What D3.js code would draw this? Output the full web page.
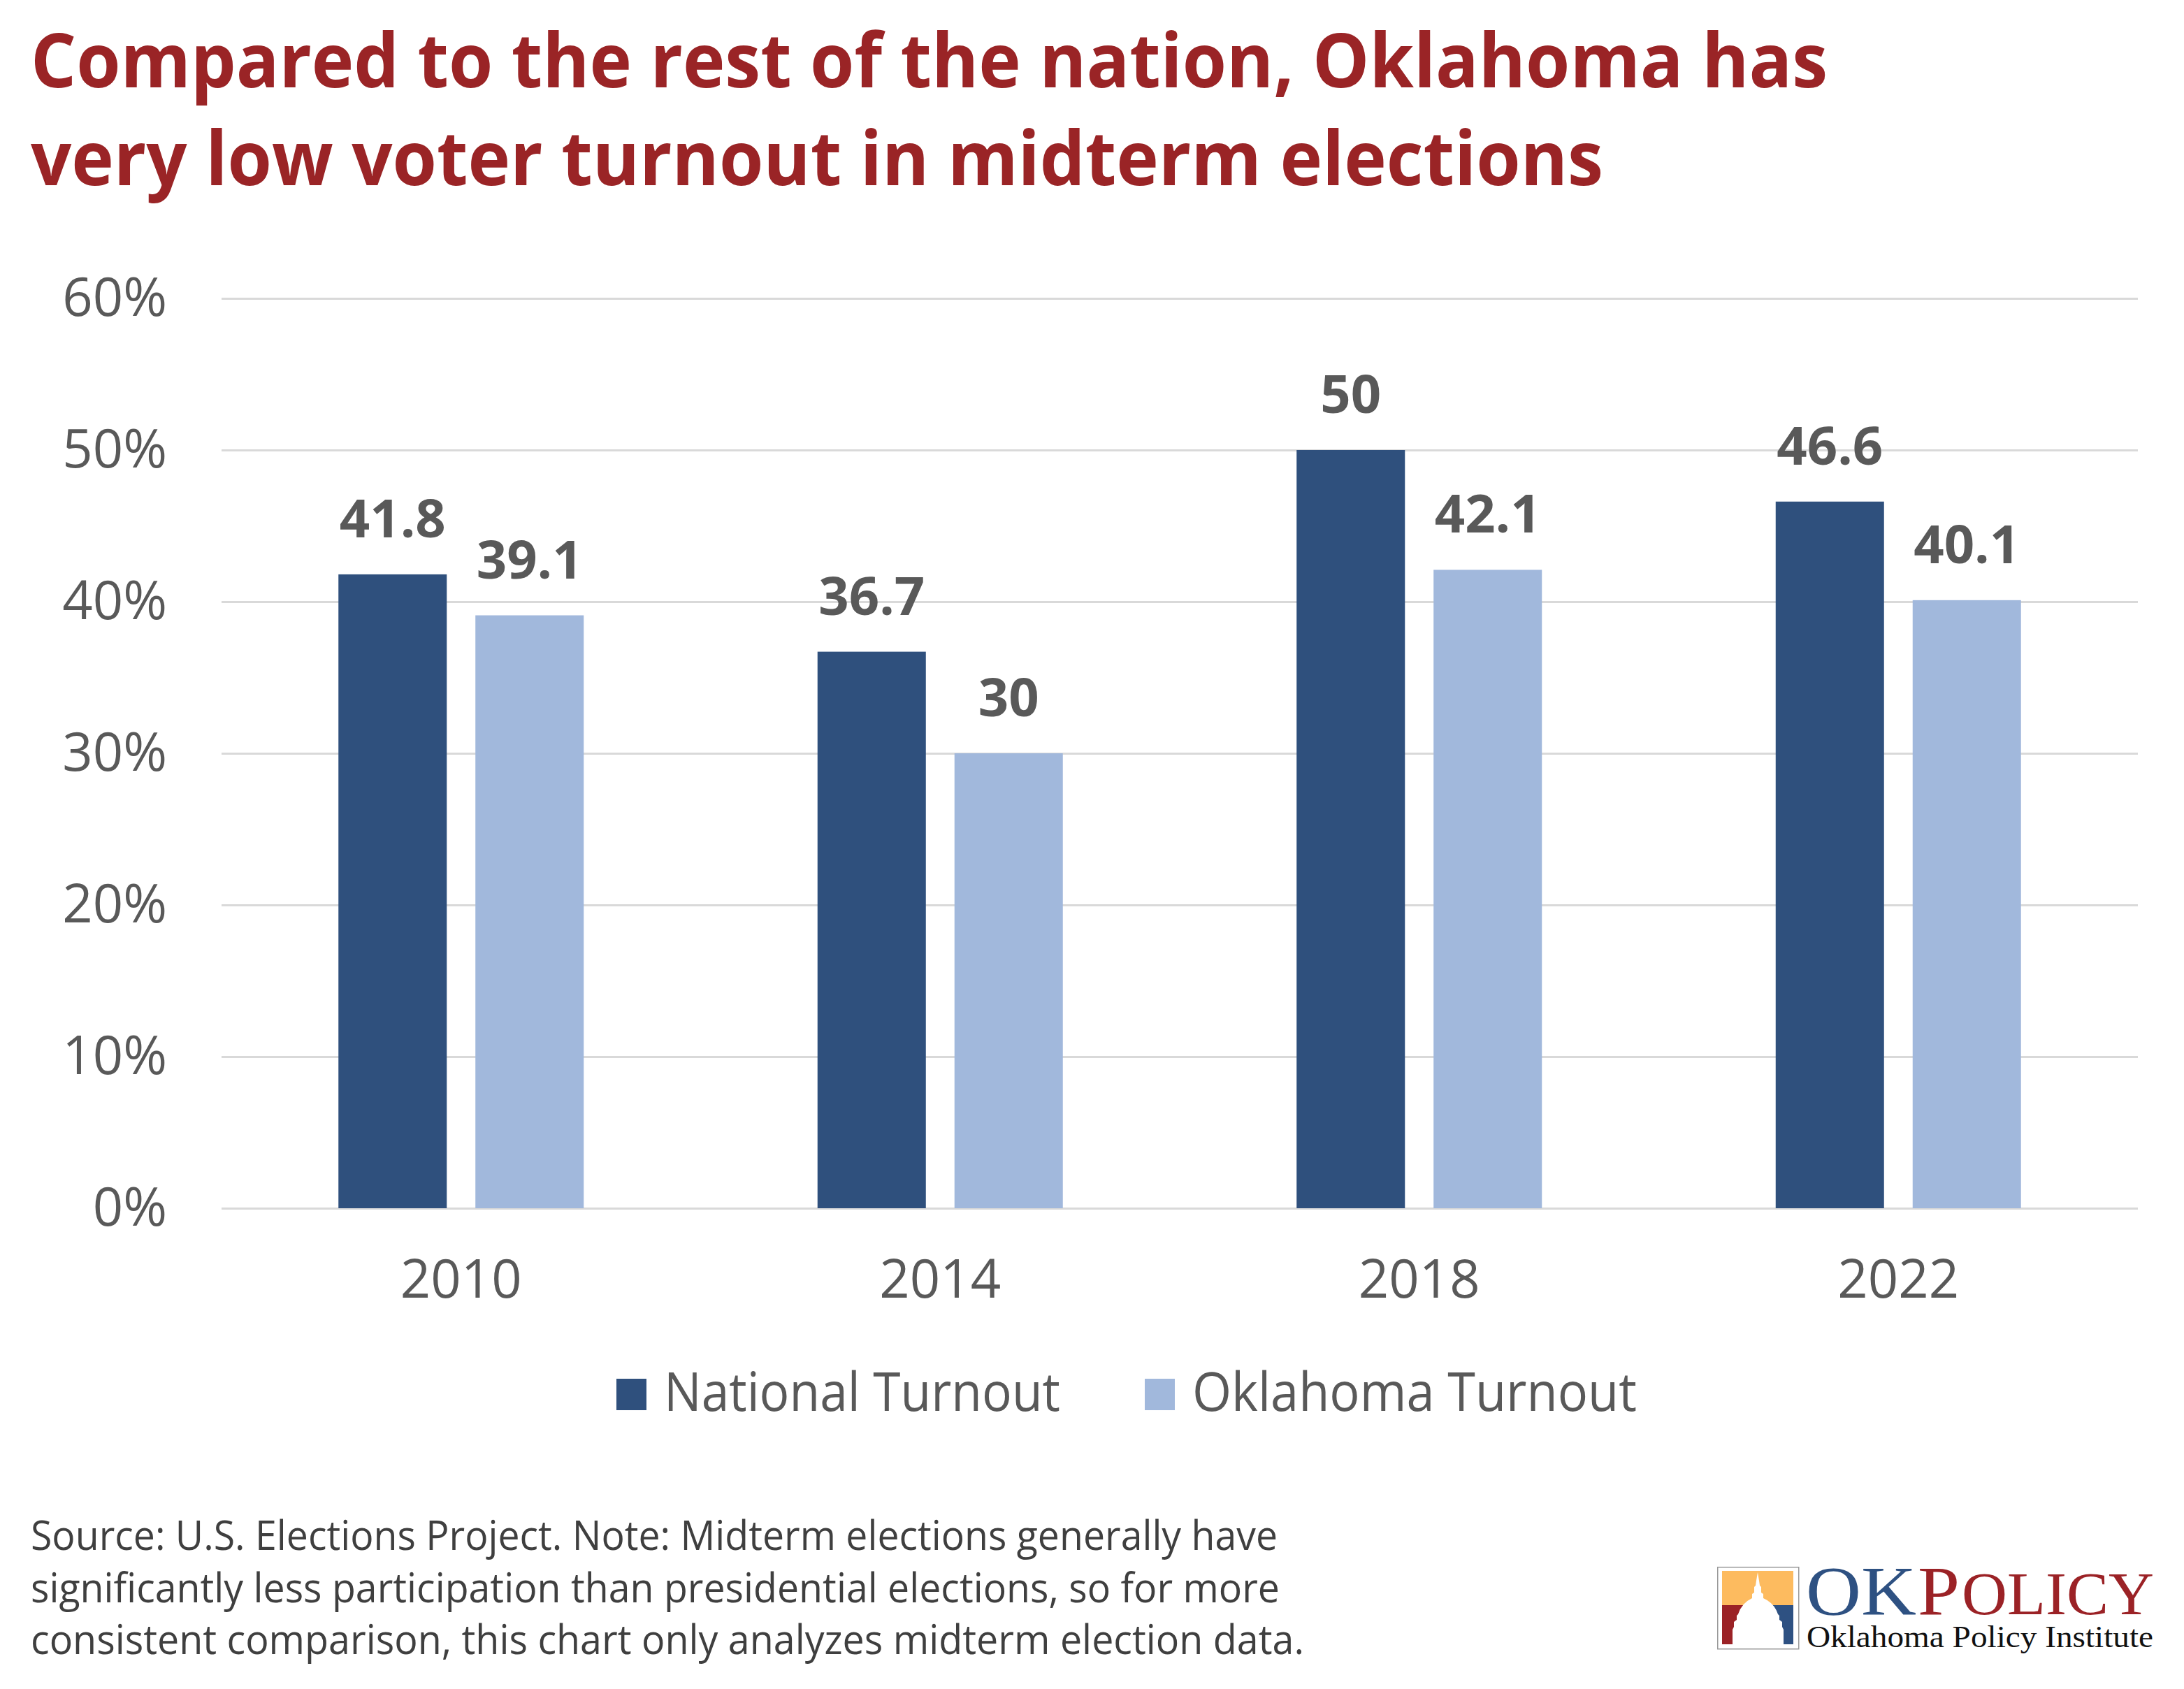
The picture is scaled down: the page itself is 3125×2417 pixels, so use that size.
<!DOCTYPE html>
<html>
<head>
<meta charset="utf-8">
<script src="https://cdn.jsdelivr.net/npm/d3@7"></script>
<style>
  body { margin: 0; background: #fff; }
  svg { display: block; }
</style>
</head>
<body>
<div id="vis"></div>
<script>
var width = 3125,
    height = 2417;

// ---- data ----
var years = ["2010", "2014", "2018", "2022"];
var seriesNames = ["National Turnout", "Oklahoma Turnout"];
var national = [41.8, 36.7, 50, 46.6];
var oklahoma = [39.1, 30, 42.1, 40.1];
var yTicks = [0, 10, 20, 30, 40, 50, 60];
var seriesColors = ["#2F507D", "#A1B8DC"];

var titleLines = ["Compared to the rest of the nation, Oklahoma has",
                  "very low voter turnout in midterm elections"];
var footLines = ["Source: U.S. Elections Project. Note: Midterm elections generally have",
                 "significantly less participation than presidential elections, so for more",
                 "consistent comparison, this chart only analyzes midterm election data."];

var font = "'Open Sans', 'Noto Sans', sans-serif";
var serif = "'Liberation Serif', 'DejaVu Serif', serif";
var textGrey = "#595959";

var svg = d3.select("#vis").append("svg")
    .attr("width", width)
    .attr("height", height);

svg.append("rect").attr("width", width).attr("height", height).attr("fill", "#fff");

//--------TITLE--------//
var titleWidths = [2571, 2250];
svg.selectAll(".title")
    .data(titleLines)
    .enter()
    .append("text")
    .attr("class", "title")
    .attr("x", 44)
    .attr("y", function(d, i) { return 125 + i * 140; })
    .attr("textLength", function(d, i) { return titleWidths[i]; })
    .attr("lengthAdjust", "spacingAndGlyphs")
    .style("font-family", font)
    .style("font-weight", "700")
    .style("font-size", "108px")
    .style("fill", "#9A2426")
    .text(function(d) { return d; });

//--------SCALES--------//
var x = d3.scaleBand()
    .domain(years)
    .range([317, 3059]);

var x1 = d3.scaleBand()
    .domain(seriesNames)
    .range([(x.bandwidth() - 351) / 2, (x.bandwidth() + 351) / 2])
    .paddingInner(0.209);

var y = d3.scaleLinear()
    .domain([0, 60])
    .range([1729, 427]);

//--------AXES--------//
var yAxis = svg.append("g")
    .attr("transform", "translate(317,0)")
    .call(d3.axisLeft(y)
        .tickValues(yTicks)
        .tickSize(-(3059 - 317))
        .tickPadding(78)
        .tickFormat(function(d) { return d + "%"; }));
yAxis.select(".domain").remove();
yAxis.selectAll("line").attr("stroke", "#D9D9D9").attr("stroke-width", 3);
yAxis.selectAll("text")
    .style("font-family", font)
    .style("font-size", "76px")
    .style("fill", textGrey);

var xAxis = svg.append("g")
    .attr("transform", "translate(0,1729)")
    .call(d3.axisBottom(x).tickSize(0).tickPadding(74));
xAxis.select(".domain").remove();
xAxis.selectAll("text")
    .style("font-family", font)
    .style("font-size", "76px")
    .style("fill", textGrey);

//--------BARS--------//
var rows = years.map(function(yr, i) {
    return { year: yr, values: [
        { key: seriesNames[0], value: national[i] },
        { key: seriesNames[1], value: oklahoma[i] }
    ] };
});

var groups = svg.selectAll(".group")
    .data(rows)
    .enter()
    .append("g")
    .attr("class", "group")
    .attr("transform", function(d) { return "translate(" + x(d.year) + ",0)"; });

groups.selectAll("rect")
    .data(function(d) { return d.values; })
    .enter()
    .append("rect")
    .attr("x", function(d) { return x1(d.key); })
    .attr("y", function(d) { return y(d.value); })
    .attr("width", x1.bandwidth())
    .attr("height", function(d) { return y(0) - y(d.value); })
    .attr("fill", function(d, i) { return seriesColors[i]; });

groups.selectAll(".val")
    .data(function(d) { return d.values; })
    .enter()
    .append("text")
    .attr("class", "val")
    .attr("x", function(d) { return x1(d.key) + x1.bandwidth() / 2; })
    .attr("y", function(d) { return y(d.value) - 53; })
    .attr("text-anchor", "middle")
    .style("font-family", font)
    .style("font-weight", "700")
    .style("font-size", "76px")
    .style("fill", textGrey)
    .text(function(d) { return String(d.value); });

//--------LEGEND--------//
var legendX = [882, 1638];
var legendW = [567, 636];
var legend = svg.selectAll(".legenditem")
    .data(seriesNames)
    .enter()
    .append("g")
    .attr("class", "legenditem")
    .attr("transform", function(d, i) { return "translate(" + legendX[i] + ",1973)"; });

legend.append("rect")
    .attr("width", 43)
    .attr("height", 45)
    .attr("fill", function(d, i) { return seriesColors[i]; });

legend.append("text")
    .attr("x", 68)
    .attr("y", 46)
    .attr("textLength", function(d, i) { return legendW[i]; })
    .attr("lengthAdjust", "spacingAndGlyphs")
    .style("font-family", font)
    .style("font-size", "76px")
    .style("fill", textGrey)
    .text(function(d) { return d; });

//--------FOOTNOTE--------//
var footW = [1784, 1787, 1822];
svg.selectAll(".foot")
    .data(footLines)
    .enter()
    .append("text")
    .attr("class", "foot")
    .attr("x", 44)
    .attr("y", function(d, i) { return 2218 + i * 74.5; })
    .attr("textLength", function(d, i) { return footW[i]; })
    .attr("lengthAdjust", "spacingAndGlyphs")
    .style("font-family", font)
    .style("font-size", "59px")
    .style("fill", "#3F3F3F")
    .text(function(d) { return d; });

//--------LOGO--------//
var logo = svg.append("g").attr("transform", "translate(2457,2242)");
logo.append("rect")
    .attr("x", 0.75).attr("y", 0.75)
    .attr("width", 116).attr("height", 117)
    .attr("fill", "#fff")
    .attr("stroke", "#9a9a9a")
    .attr("stroke-width", 1.5);
var inner = logo.append("g").attr("transform", "translate(7,6)");
inner.append("rect").attr("width", 102).attr("height", 49).attr("fill", "#FDBB5F");
inner.append("rect").attr("y", 49).attr("width", 51).attr("height", 56).attr("fill", "#9B2226");
inner.append("rect").attr("x", 51).attr("y", 49).attr("width", 51).attr("height", 56).attr("fill", "#2E5182");
// capitol dome silhouette
inner.append("path")
    .attr("fill", "#fff")
    .attr("d", "M51,2 L53,14 L54,21 L56,23 L56,31 L59,33 L59,39 " +
               "Q75,46 80,62 L82,64 L82,70 L86,73 L86,80 L88,84 L88,105 " +
               "L15,105 L15,84 L17,80 L17,73 L21,70 L21,64 L23,62 " +
               "Q28,46 43,39 L43,33 L46,31 L46,23 L48,21 L49,14 Z");

// wordmark pieces: text, left x, width, size, colour
var wordmark = [
    { t: "OK",    x: 2584, w: 158, size: 100, c: "#2E5182" },
    { t: "P",     x: 2744, w: 60,  size: 100, c: "#9B2226" },
    { t: "OLICY", x: 2807, w: 275, size: 87,  c: "#9B2226" }
];
svg.selectAll(".wordmark")
    .data(wordmark)
    .enter()
    .append("text")
    .attr("class", "wordmark")
    .attr("x", function(d) { return d.x; })
    .attr("y", 2310)
    .attr("textLength", function(d) { return d.w; })
    .attr("lengthAdjust", "spacingAndGlyphs")
    .style("font-family", serif)
    .style("font-size", function(d) { return d.size + "px"; })
    .style("fill", function(d) { return d.c; })
    .text(function(d) { return d.t; });

svg.append("text")
    .attr("x", 2585)
    .attr("y", 2357)
    .attr("textLength", 496)
    .attr("lengthAdjust", "spacingAndGlyphs")
    .style("font-family", serif)
    .style("font-size", "44px")
    .style("fill", "#111")
    .text("Oklahoma Policy Institute");
</script>
</body>
</html>
